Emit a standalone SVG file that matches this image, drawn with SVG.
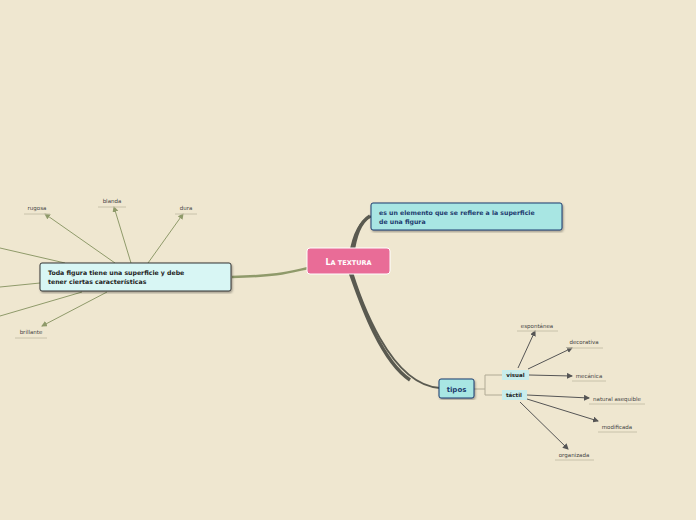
<svg xmlns="http://www.w3.org/2000/svg" width="696" height="520" viewBox="0 0 696 520">
<style>
.t{font-family:"DejaVu Sans",sans-serif;font-size:5.5px;fill:#444}
.ul{stroke:#c8c2aa;stroke-width:1}
.g{stroke:#8f9a6a;stroke-width:1;fill:none}
.d{stroke:#555;stroke-width:1;fill:none}
</style>
<defs>
<marker id="ag" markerWidth="6" markerHeight="6" refX="5" refY="3" orient="auto"><path d="M0,0L6,3L0,6z" fill="#8f9a6a"/></marker>
<marker id="ad" markerWidth="6" markerHeight="6" refX="5" refY="3" orient="auto"><path d="M0,0L6,3L0,6z" fill="#555"/></marker>
<filter id="sh"><feDropShadow dx="1" dy="1.5" stdDeviation="0.8" flood-opacity="0.35"/></filter>
</defs>
<rect width="696" height="520" fill="#efe7d0"/>
<g id="connectors">
<path d="M232,277 C280,276 290,272 308,268" stroke="#8f9a6a" stroke-width="2.5" fill="none"/>
<path d="M372,216 C360,220 352,235 349,262 C360,300 390,385 440,388" stroke="#5a5a50" stroke-width="2" fill="none"/>
<path d="M352,258 C355,235 360,222 370,216" stroke="#5a5a50" stroke-width="3.5" fill="none"/>
<path d="M350,272 C360,300 380,360 410,380" stroke="#5a5a50" stroke-width="3.5" fill="none"/>
<line x1="115" y1="263" x2="45" y2="214" class="g" marker-end="url(#ag)"/>
<line x1="131" y1="263" x2="114" y2="207" class="g" marker-end="url(#ag)"/>
<line x1="148" y1="263" x2="183" y2="214" class="g" marker-end="url(#ag)"/>
<line x1="107" y1="292" x2="42" y2="326" class="g" marker-end="url(#ag)"/>
<line x1="65" y1="263" x2="0" y2="248" class="g"/>
<line x1="40" y1="283" x2="0" y2="287" class="g"/>
<line x1="82" y1="292" x2="0" y2="316" class="g"/>
<path d="M474,389 H485 M485,375 V395 M485,375 H502 M485,395 H502" stroke="#b0aa95" stroke-width="1" fill="none"/>
<line x1="518" y1="368" x2="535" y2="331" class="d" marker-end="url(#ad)"/>
<line x1="528" y1="369" x2="572" y2="348" class="d" marker-end="url(#ad)"/>
<line x1="529" y1="375" x2="572" y2="376" class="d" marker-end="url(#ad)"/>
<line x1="527" y1="395" x2="589" y2="398" class="d" marker-end="url(#ad)"/>
<line x1="527" y1="399" x2="598" y2="421" class="d" marker-end="url(#ad)"/>
<line x1="520" y1="402" x2="568" y2="449" class="d" marker-end="url(#ad)"/>
</g>
<g id="root"><rect x="307" y="248" width="83" height="26" rx="3" fill="#e96c97" stroke="#fff" stroke-width="1"/>
<text x="348.5" y="265" text-anchor="middle" font-family="DejaVu Sans,sans-serif" font-weight="bold" font-size="8" fill="#fff">L<tspan font-size="6.5">A TEXTURA</tspan></text></g>
<g id="def"><rect x="371" y="203" width="191" height="27" rx="2" fill="#a8e6e3" stroke="#1d3b6e" filter="url(#sh)"/>
<text x="379" y="215" font-family="DejaVu Sans,sans-serif" font-weight="bold" font-size="6.2" fill="#1d3b6e">es un elemento que se refiere a la superficie</text>
<text x="379" y="224" font-family="DejaVu Sans,sans-serif" font-weight="bold" font-size="6.2" fill="#1d3b6e">de una figura</text></g>
<g id="fig"><rect x="40" y="263" width="191" height="28" rx="2" fill="#d8f6f4" stroke="#333" filter="url(#sh)"/>
<text x="48" y="275" font-family="DejaVu Sans,sans-serif" font-weight="bold" font-size="6.2" fill="#222">Toda figura  tiene una superficie y debe</text>
<text x="48" y="284" font-family="DejaVu Sans,sans-serif" font-weight="bold" font-size="6.2" fill="#222">tener ciertas características</text></g>
<g id="tipos"><rect x="439" y="379" width="35" height="19" rx="2" fill="#a8e6e3" stroke="#1d3b6e" filter="url(#sh)"/>
<text x="456.5" y="391.5" text-anchor="middle" font-family="DejaVu Sans,sans-serif" font-weight="bold" font-size="7" fill="#1d3b6e">tipos</text></g>
<g id="visual"><rect x="502" y="370" width="27" height="10" fill="#c8ecec"/><text x="515.5" y="377" text-anchor="middle" font-family="DejaVu Sans,sans-serif" font-weight="bold" font-size="5.5" fill="#222">visual</text></g>
<g id="tactil"><rect x="502" y="390" width="25" height="10" fill="#c8ecec"/><text x="514" y="397" text-anchor="middle" font-family="DejaVu Sans,sans-serif" font-weight="bold" font-size="5.5" fill="#222">táctil</text></g>
<g id="rugosa"><text x="37" y="210" class="t" text-anchor="middle">rugosa</text><line x1="24" y1="214" x2="50" y2="214" class="ul"/></g>
<g id="blanda"><text x="112" y="203" class="t" text-anchor="middle">blanda</text><line x1="98" y1="207" x2="126" y2="207" class="ul"/></g>
<g id="dura"><text x="186" y="210" class="t" text-anchor="middle">dura</text><line x1="175" y1="214" x2="197" y2="214" class="ul"/></g>
<g id="brillante"><text x="31" y="334" class="t" text-anchor="middle">brillante</text><line x1="15" y1="338" x2="47" y2="338" class="ul"/></g>
<g id="espontanea"><text x="537" y="328" class="t" text-anchor="middle">espontánea</text><line x1="517" y1="331" x2="558" y2="331" class="ul"/></g>
<g id="decorativa"><text x="584" y="344" class="t" text-anchor="middle">decorativa</text><line x1="567" y1="348" x2="603" y2="348" class="ul"/></g>
<g id="mecanica"><text x="589" y="378" class="t" text-anchor="middle">mecánica</text><line x1="572" y1="381" x2="606" y2="381" class="ul"/></g>
<g id="natural"><text x="617" y="401" class="t" text-anchor="middle">natural asequible</text><line x1="589" y1="404" x2="645" y2="404" class="ul"/></g>
<g id="modificada"><text x="617" y="429" class="t" text-anchor="middle">modificada</text><line x1="598" y1="432" x2="637" y2="432" class="ul"/></g>
<g id="organizada"><text x="574" y="457" class="t" text-anchor="middle">organizada</text><line x1="555" y1="460" x2="594" y2="460" class="ul"/></g>
</svg>
